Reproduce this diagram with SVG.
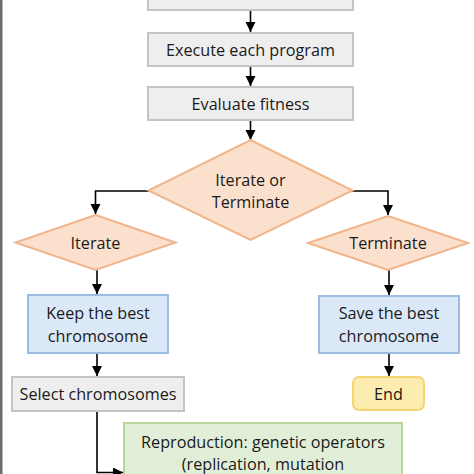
<svg xmlns="http://www.w3.org/2000/svg" width="474" height="474" viewBox="0 0 474 474">
<defs>
<marker id="ah" markerUnits="userSpaceOnUse" markerWidth="10" markerHeight="12" refX="10" refY="5" orient="auto">
<path d="M0,0 L10,5 L0,10 Z" fill="#000"/>
</marker>
<style>
.t{font-family:"Open Sans","Liberation Sans",sans-serif;font-size:16.2px;fill:#1a1a1a;text-anchor:middle;dominant-baseline:central}
.g{fill:#eeeeee;stroke:#c4c4c4;stroke-width:2}
.d{fill:#fbe1cd;stroke:#f2b48a;stroke-width:2}
.b{fill:#dbe8f7;stroke:#9dbde0;stroke-width:2}
.gr{fill:#e2efd8;stroke:#b6d69c;stroke-width:2}
.y{fill:#fdecb0;stroke:#f5d474;stroke-width:2}
.c{fill:none;stroke:#000;stroke-width:1.6;marker-end:url(#ah)}
</style>
</defs>
<rect width="474" height="474" fill="#fff"/>
<rect x="0" y="0" width="2.5" height="474" fill="#6e6e6e"/>
<g id="connectors">
<line class="c" x1="250.5" y1="10" x2="250.5" y2="32"/>
<line class="c" x1="250.5" y1="66" x2="250.5" y2="86"/>
<line class="c" x1="250.5" y1="120" x2="250.5" y2="140"/>
<polyline class="c" points="149,191 95.5,191 95.5,214"/>
<polyline class="c" points="352,191 388,191 388,215"/>
<line class="c" x1="97" y1="270" x2="97" y2="294"/>
<line class="c" x1="97" y1="353" x2="97" y2="376"/>
<polyline class="c" points="97,411 97,472.5 123,472.5"/>
<line class="c" x1="389" y1="270" x2="389" y2="295"/>
<line class="c" x1="389" y1="353" x2="389" y2="376"/>
</g>
<g id="top"><rect class="g" x="148" y="-10" width="205" height="20"/></g>
<g id="execute"><rect class="g" x="148" y="33" width="205" height="33"/><text class="t" x="250.5" y="49.5">Execute each program</text></g>
<g id="evaluate"><rect class="g" x="148" y="87" width="205" height="33"/><text class="t" x="250.5" y="103.5">Evaluate fitness</text></g>
<g id="decision"><polygon class="d" points="250.5,140 352.5,190.5 250.5,240 148.5,190.5"/><text class="t" x="250.5" y="180">Iterate or</text><text class="t" x="250.5" y="202">Terminate</text></g>
<g id="iterate"><polygon class="d" points="95.5,215 175.5,242.5 95.5,270 15.5,242.5"/><text class="t" x="95.5" y="243">Iterate</text></g>
<g id="terminate"><polygon class="d" points="388,216 468,243 388,270 308,243"/><text class="t" x="388" y="243">Terminate</text></g>
<g id="keep"><rect class="b" x="28" y="295" width="140" height="58"/><text class="t" x="98" y="313">Keep the best</text><text class="t" x="98" y="336">chromosome</text></g>
<g id="save"><rect class="b" x="319" y="296" width="140" height="57"/><text class="t" x="389" y="313">Save the best</text><text class="t" x="389" y="336">chromosome</text></g>
<g id="select"><rect class="g" x="12" y="377" width="172" height="34"/><text class="t" x="98" y="394">Select chromosomes</text></g>
<g id="end"><rect class="y" x="353" y="377" width="71" height="33" rx="6"/><text class="t" x="388.5" y="393.5">End</text></g>
<g id="reproduction"><rect class="gr" x="124" y="423" width="278" height="60"/><text class="t" x="263" y="442">Reproduction: genetic operators</text><text class="t" x="263" y="464">(replication, mutation</text></g>
</svg>
